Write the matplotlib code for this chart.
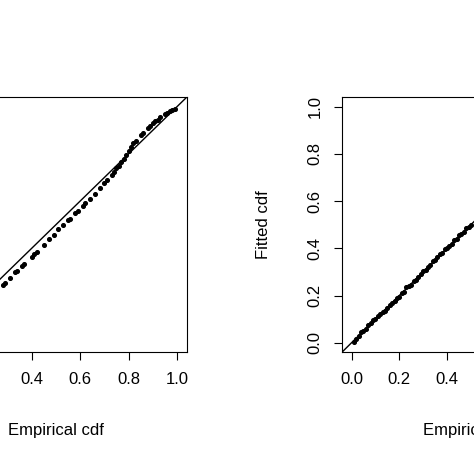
import matplotlib.pyplot as plt

# Left panel: empirical vs fitted cdf
emp_left = [0.28, 0.29, 0.31, 0.33, 0.34, 0.36, 0.37, 0.40, 0.41, 0.42,
            0.45, 0.47, 0.49, 0.51, 0.53, 0.55, 0.56, 0.58, 0.59, 0.61,
            0.62, 0.64, 0.66, 0.68, 0.70, 0.71, 0.73, 0.74, 0.75, 0.76,
            0.77, 0.78, 0.79, 0.80, 0.81, 0.82, 0.83, 0.85, 0.86, 0.88,
            0.89, 0.90, 0.91, 0.92, 0.93, 0.95, 0.96, 0.97, 0.98, 0.99]
fit_left = [0.245, 0.255, 0.275, 0.30, 0.305, 0.325, 0.335, 0.365, 0.375, 0.385,
            0.415, 0.44, 0.455, 0.48, 0.50, 0.52, 0.525, 0.55, 0.56, 0.58,
            0.59, 0.61, 0.63, 0.655, 0.675, 0.69, 0.71, 0.725, 0.74, 0.75,
            0.765, 0.78, 0.795, 0.81, 0.83, 0.845, 0.855, 0.88, 0.89, 0.91,
            0.92, 0.93, 0.94, 0.945, 0.955, 0.97, 0.975, 0.98, 0.985, 0.99]

# Right panel
emp_right = [0.01, 0.02, 0.03, 0.04, 0.05, 0.06, 0.07, 0.08, 0.09, 0.10,
             0.11, 0.12, 0.13, 0.14, 0.15, 0.16, 0.17, 0.18, 0.19, 0.20,
             0.21, 0.22, 0.23, 0.24, 0.25, 0.26, 0.27, 0.28, 0.29, 0.30,
             0.31, 0.32, 0.33, 0.34, 0.35, 0.36, 0.37, 0.38, 0.39, 0.40,
             0.41, 0.42, 0.43, 0.44, 0.45, 0.46, 0.47, 0.48, 0.49, 0.50,
             0.52, 0.54, 0.56, 0.58, 0.60, 0.65, 0.70, 0.75, 0.80, 0.85,
             0.90, 0.95, 0.99]
fit_right = [0.005, 0.015, 0.03, 0.045, 0.05, 0.06, 0.075, 0.085, 0.095, 0.10,
             0.115, 0.12, 0.13, 0.135, 0.145, 0.16, 0.17, 0.175, 0.19, 0.195,
             0.21, 0.215, 0.235, 0.24, 0.245, 0.26, 0.265, 0.28, 0.29, 0.305,
             0.31, 0.32, 0.33, 0.345, 0.35, 0.365, 0.375, 0.38, 0.395, 0.40,
             0.41, 0.42, 0.435, 0.44, 0.455, 0.46, 0.47, 0.485, 0.49, 0.50,
             0.52, 0.535, 0.56, 0.585, 0.60, 0.65, 0.70, 0.755, 0.80, 0.85,
             0.90, 0.95, 0.99]

ticks = [0.0, 0.2, 0.4, 0.6, 0.8, 1.0]
tick_labels = ["0.0", "0.2", "0.4", "0.6", "0.8", "1.0"]

plt.rcParams['font.family'] = ['Liberation Sans', 'DejaVu Sans']
fig = plt.figure(figsize=(4.74, 4.74), dpi=100)

# axes partly outside the figure, as in the cropped reference
ax1 = fig.add_axes([-0.158, 0.257, 0.552, 0.538])
ax2 = fig.add_axes([0.7215, 0.257, 0.544, 0.538])

for ax, ex, fy in [(ax1, emp_left, fit_left), (ax2, emp_right, fit_right)]:
    ax.plot([-0.04, 1.04], [-0.04, 1.04], color='black', lw=1)
    ax.scatter(ex, fy, s=7, color='black', zorder=3)
    ax.set_xlim(-0.04, 1.04)
    ax.set_ylim(-0.04, 1.04)
    ax.set_xticks(ticks)
    ax.set_xticklabels(tick_labels, fontsize=12)
    ax.set_yticks(ticks)
    ax.set_yticklabels(tick_labels, fontsize=12, rotation=90, va='center')
    ax.tick_params(length=6, pad=8)
    ax.set_xlabel("Empirical cdf", fontsize=12, labelpad=26)
    ax.set_ylabel("Fitted cdf", fontsize=12, labelpad=26)

plt.savefig("out.png", dpi=100)
